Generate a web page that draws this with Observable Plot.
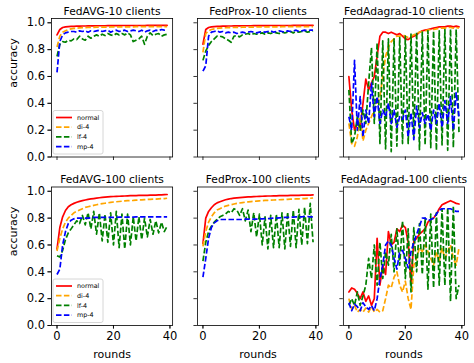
<!DOCTYPE html>
<html>
<head>
<meta charset="utf-8">
<script src="https://cdn.jsdelivr.net/npm/d3@7"></script>
<script src="https://cdn.jsdelivr.net/npm/@observablehq/plot@0.6"></script>
<style>
  html, body { margin: 0; padding: 0; background: white; }
  #chart { width: 474px; height: 363px; }
</style>
</head>
<body>
<div id="chart"></div>
<script>
// ---------- categories & labels ----------
const algs = ["FedAVG", "FedProx", "FedAdagrad"];
const clientCounts = ["10", "100"];
const seriesNames = ["normal", "di-4", "lf-4", "mp-4"];
const seriesColors = ["red", "orange", "green", "blue"];
const yTicks = [0, 0.2, 0.4, 0.6, 0.8, 1.0];
const xTicks = [0, 20, 40];
const rounds = d3.range(40);

// ---------- FedAVG, 10 clients ----------
const fedavg10_normal = [0.91,0.95,0.965,0.97,0.972,0.973,0.974,0.975,0.975,0.976, 0.976,0.977,0.977,0.977,0.978,0.978,0.978,0.978,0.979,0.979, 0.979,0.979,0.979,0.98,0.98,0.98,0.98,0.98,0.98,0.98, 0.98,0.98,0.981,0.981,0.981,0.981,0.981,0.981,0.981,0.981];
const fedavg10_di4 = [0.82,0.9,0.93,0.94,0.95,0.955,0.958,0.96,0.962,0.963, 0.964,0.965,0.966,0.966,0.967,0.967,0.968,0.968,0.968,0.969, 0.969,0.969,0.97,0.97,0.97,0.97,0.97,0.97,0.971,0.971, 0.971,0.971,0.971,0.972,0.972,0.972,0.972,0.972,0.972,0.972];
const fedavg10_lf4 = [0.75,0.84,0.86,0.855,0.87,0.865,0.88,0.875,0.9,0.88, 0.87,0.9,0.885,0.9,0.91,0.9,0.915,0.905,0.92,0.91, 0.905,0.92,0.91,0.92,0.91,0.925,0.91,0.86,0.87,0.88, 0.9,0.84,0.9,0.925,0.905,0.915,0.92,0.9,0.91,0.915];
const fedavg10_mp4 = [0.63,0.86,0.91,0.925,0.93,0.935,0.935,0.93,0.94,0.935, 0.94,0.93,0.94,0.935,0.94,0.945,0.935,0.94,0.945,0.93, 0.94,0.945,0.935,0.94,0.945,0.935,0.94,0.945,0.94,0.935, 0.945,0.93,0.94,0.945,0.935,0.945,0.94,0.95,0.945,0.95];

// ---------- FedProx, 10 clients ----------
const fedprox10_normal = [0.84,0.95,0.965,0.97,0.972,0.973,0.974,0.975,0.975,0.976, 0.976,0.977,0.977,0.977,0.978,0.978,0.978,0.978,0.979,0.979, 0.979,0.979,0.979,0.98,0.98,0.98,0.98,0.98,0.98,0.98, 0.98,0.98,0.981,0.981,0.981,0.981,0.981,0.981,0.981,0.981];
const fedprox10_di4 = [0.78,0.92,0.94,0.95,0.955,0.958,0.96,0.962,0.963,0.964, 0.965,0.965,0.966,0.966,0.967,0.967,0.968,0.968,0.968,0.969, 0.969,0.969,0.97,0.97,0.97,0.97,0.97,0.97,0.971,0.971, 0.971,0.971,0.971,0.972,0.972,0.972,0.972,0.972,0.972,0.972];
const fedprox10_lf4 = [0.72,0.79,0.83,0.86,0.88,0.9,0.9,0.895,0.88,0.87, 0.855,0.9,0.905,0.895,0.91,0.915,0.92,0.91,0.92,0.915, 0.92,0.925,0.915,0.925,0.92,0.93,0.925,0.92,0.93,0.925, 0.93,0.935,0.925,0.935,0.93,0.935,0.94,0.93,0.935,0.94];
const fedprox10_mp4 = [0.64,0.68,0.9,0.93,0.935,0.94,0.93,0.935,0.925,0.93, 0.925,0.93,0.92,0.925,0.93,0.925,0.93,0.935,0.93,0.925, 0.93,0.935,0.93,0.935,0.94,0.93,0.935,0.94,0.935,0.93, 0.94,0.935,0.94,0.945,0.935,0.94,0.945,0.94,0.945,0.945];

// ---------- FedAdagrad, 10 clients ----------
const fedadagrad10_normal = [0.6,0.35,0.2,0.25,0.22,0.4,0.58,0.5,0.55,0.6, 0.75,0.9,0.93,0.93,0.92,0.93,0.92,0.91,0.92,0.9, 0.88,0.875,0.89,0.9,0.91,0.93,0.94,0.945,0.95,0.955, 0.96,0.965,0.97,0.97,0.97,0.975,0.975,0.97,0.975,0.97];
const fedadagrad10_di4 = [0.25,0.1,0.08,0.15,0.3,0.12,0.2,0.25,0.3,0.35, 0.4,0.45,0.6,0.75,0.82,0.86,0.88,0.9,0.9,0.91, 0.9,0.89,0.9,0.91,0.92,0.93,0.935,0.94,0.945,0.95, 0.95,0.955,0.96,0.96,0.96,0.965,0.965,0.96,0.965,0.96];
const fedadagrad10_lf4 = [0.5,0.1,0.15,0.3,0.2,0.35,0.25,0.55,0.815,0.25, 0.85,0.1,0.865,0.06,0.88,0.04,0.88,0.08,0.89,0.1, 0.9,0.1,0.915,0.15,0.93,0.055,0.93,0.09,0.94,0.07, 0.94,0.05,0.94,0.09,0.95,0.05,0.953,0.07,0.95,0.18];
const fedadagrad10_mp4 = [0.3,0.2,0.72,0.2,0.45,0.15,0.35,0.25,0.55,0.3, 0.45,0.25,0.35,0.3,0.4,0.25,0.35,0.22,0.3,0.28, 0.35,0.15,0.33,0.13,0.38,0.22,0.33,0.25,0.32,0.2, 0.35,0.25,0.4,0.22,0.42,0.25,0.45,0.2,0.48,0.3];

// ---------- FedAVG, 100 clients ----------
const fedavg100_normal = [0.57,0.73,0.81,0.857,0.885,0.9,0.91,0.918,0.925,0.93, 0.935,0.94,0.943,0.946,0.949,0.952,0.954,0.956,0.958,0.96, 0.961,0.962,0.963,0.964,0.965,0.966,0.967,0.967,0.968,0.969, 0.969,0.97,0.97,0.971,0.972,0.972,0.973,0.974,0.975,0.976];
const fedavg100_di4 = [0.555,0.65,0.72,0.77,0.8,0.82,0.84,0.85,0.86,0.87, 0.88,0.885,0.89,0.895,0.9,0.905,0.908,0.911,0.914,0.917, 0.92,0.922,0.924,0.926,0.928,0.93,0.931,0.932,0.934,0.935, 0.936,0.938,0.939,0.94,0.941,0.942,0.944,0.945,0.946,0.948];
const fedavg100_lf4 = [0.52,0.51,0.56,0.64,0.69,0.72,0.75,0.78,0.76,0.82, 0.75,0.84,0.72,0.85,0.68,0.84,0.63,0.83,0.62,0.84, 0.6,0.85,0.58,0.83,0.57,0.83,0.6,0.81,0.63,0.81, 0.64,0.8,0.66,0.79,0.68,0.78,0.69,0.77,0.7,0.74];
const fedavg100_mp4 = [0.38,0.42,0.6,0.7,0.76,0.785,0.795,0.8,0.8,0.8, 0.8,0.8,0.803,0.805,0.805,0.806,0.806,0.805,0.805,0.805, 0.806,0.806,0.807,0.807,0.807,0.808,0.808,0.808,0.809,0.809, 0.809,0.81,0.81,0.81,0.81,0.81,0.81,0.81,0.81,0.81];

// ---------- FedProx, 100 clients ----------
const fedprox100_normal = [0.61,0.8,0.85,0.877,0.9,0.914,0.922,0.93,0.937,0.942, 0.946,0.949,0.951,0.953,0.955,0.957,0.958,0.959,0.96,0.961, 0.962,0.963,0.964,0.965,0.965,0.966,0.966,0.967,0.967,0.968, 0.968,0.969,0.969,0.97,0.97,0.971,0.971,0.972,0.972,0.973];
const fedprox100_di4 = [0.59,0.7,0.77,0.81,0.84,0.86,0.87,0.88,0.89,0.895, 0.9,0.905,0.91,0.913,0.916,0.919,0.921,0.923,0.925,0.927, 0.929,0.93,0.932,0.933,0.934,0.935,0.936,0.937,0.938,0.939, 0.94,0.941,0.942,0.943,0.944,0.945,0.946,0.947,0.948,0.95];
const fedprox100_lf4 = [0.48,0.62,0.7,0.74,0.77,0.79,0.81,0.82,0.83,0.85, 0.84,0.87,0.86,0.82,0.87,0.78,0.86,0.7,0.84,0.66, 0.83,0.6,0.81,0.57,0.82,0.58,0.83,0.58,0.84,0.57, 0.845,0.59,0.86,0.58,0.865,0.6,0.88,0.61,0.91,0.62];
const fedprox100_mp4 = [0.36,0.5,0.65,0.73,0.765,0.78,0.79,0.79,0.79,0.79, 0.79,0.79,0.79,0.79,0.79,0.792,0.792,0.792,0.793,0.793, 0.794,0.795,0.796,0.797,0.798,0.8,0.8,0.802,0.803,0.805, 0.806,0.807,0.808,0.81,0.81,0.81,0.812,0.812,0.81,0.81];

// ---------- FedAdagrad, 100 clients ----------
const fedadagrad100_normal = [0.25,0.28,0.27,0.24,0.2,0.25,0.18,0.22,0.15,0.2, 0.65,0.3,0.45,0.38,0.7,0.6,0.62,0.72,0.7,0.75, 0.73,0.62,0.32,0.63,0.65,0.68,0.7,0.72,0.77,0.79, 0.8,0.83,0.87,0.9,0.91,0.92,0.93,0.92,0.91,0.905];
const fedadagrad100_di4 = [0.2,0.12,0.15,0.1,0.12,0.1,0.13,0.1,0.14,0.1, 0.12,0.1,0.11,0.2,0.3,0.28,0.36,0.4,0.3,0.25, 0.33,0.2,0.12,0.45,0.5,0.58,0.55,0.6,0.55,0.5, 0.45,0.55,0.48,0.58,0.5,0.55,0.6,0.5,0.45,0.58];
const fedadagrad100_lf4 = [0.15,0.2,0.15,0.25,0.15,0.22,0.3,0.5,0.35,0.6, 0.3,0.62,0.35,0.55,0.45,0.68,0.4,0.72,0.45,0.78, 0.35,0.72,0.25,0.73,0.4,0.76,0.38,0.8,0.27,0.83, 0.28,0.84,0.3,0.87,0.3,0.88,0.18,0.89,0.2,0.3];
const fedadagrad100_mp4 = [0.17,0.11,0.16,0.14,0.11,0.17,0.14,0.12,0.15,0.11, 0.2,0.35,0.45,0.6,0.63,0.6,0.5,0.42,0.55,0.56, 0.5,0.43,0.55,0.62,0.68,0.74,0.8,0.8,0.78,0.79, 0.8,0.83,0.86,0.87,0.87,0.87,0.87,0.86,0.85,0.85];

// ---------- build table ----------
const panelArrays = {
  "FedAVG|10": [fedavg10_normal, fedavg10_di4, fedavg10_lf4, fedavg10_mp4],
  "FedProx|10": [fedprox10_normal, fedprox10_di4, fedprox10_lf4, fedprox10_mp4],
  "FedAdagrad|10": [fedadagrad10_normal, fedadagrad10_di4, fedadagrad10_lf4, fedadagrad10_mp4],
  "FedAVG|100": [fedavg100_normal, fedavg100_di4, fedavg100_lf4, fedavg100_mp4],
  "FedProx|100": [fedprox100_normal, fedprox100_di4, fedprox100_lf4, fedprox100_mp4],
  "FedAdagrad|100": [fedadagrad100_normal, fedadagrad100_di4, fedadagrad100_lf4, fedadagrad100_mp4]
};
const rows = [];
const panels = [];
for (const clients of clientCounts) {
  for (const alg of algs) {
    panels.push({alg, clients, title: `${alg}-${clients} clients`});
    panelArrays[`${alg}|${clients}`].forEach((arr, s) => {
      arr.forEach((v, i) => rows.push({alg, clients, series: seriesNames[s], round: rounds[i], acc: v}));
    });
  }
}
const bottomPanels = panels.filter(p => p.clients === clientCounts[clientCounts.length - 1]);
const leftPanels = panels.filter(p => p.alg === algs[0]);

const font = "DejaVu Sans";
const dash = "5.5,2.4";

const lineMarks = seriesNames.map((name, s) =>
  Plot.line(rows.filter(d => d.series === name), {
    fx: "alg", fy: "clients", x: "round", y: "acc",
    stroke: seriesColors[s], strokeWidth: 1.7,
    strokeDasharray: s === 0 ? null : dash,
    strokeLinecap: s === 0 ? "round" : "butt",
    strokeLinejoin: "round"
  })
);

const plot = Plot.plot({
  width: 474,
  height: 363,
  marginLeft: 51,
  marginRight: 10,
  marginTop: 18,
  marginBottom: 38,
  style: {fontFamily: font, fontSize: "11.5px", color: "black", background: "white", overflow: "visible"},
  fx: {domain: algs, paddingInner: 0.17, paddingOuter: 0, round: false, axis: null},
  fy: {domain: clientCounts, paddingInner: 0.178, paddingOuter: 0, round: false, axis: null},
  x: {domain: [-1.95, 40.95]},
  y: {domain: [0, 1.032]},
  marks: [
    ...lineMarks,
    Plot.frame({stroke: "black", strokeWidth: 0.8}),
    Plot.axisY({ticks: yTicks, tickSize: 3.5, tickFormat: () => "", facetAnchor: null, label: null, strokeWidth: 0.8}),
    Plot.axisY({ticks: yTicks, tickSize: 3.5, tickPadding: 3, tickFormat: ".1f", facetAnchor: "left", label: null, strokeWidth: 0.8, fontSize: 11.5}),
    Plot.axisX({ticks: xTicks, tickSize: 3.5, tickFormat: () => "", facetAnchor: null, label: null, strokeWidth: 0.8}),
    Plot.axisX({ticks: xTicks, tickSize: 3.5, tickPadding: 3, tickFormat: "d", facetAnchor: "bottom", label: null, strokeWidth: 0.8, fontSize: 11.5}),
    Plot.text(panels, {fx: "alg", fy: "clients", text: "title", frameAnchor: "top", lineAnchor: "bottom", dy: -4, fontSize: 10.7, fill: "black"}),
    Plot.text(bottomPanels, {fx: "alg", fy: "clients", text: () => "rounds", frameAnchor: "bottom", lineAnchor: "middle", dy: 28.5, fontSize: 11, fill: "black"}),
    Plot.text(leftPanels, {fx: "alg", fy: "clients", text: () => "accuracy", frameAnchor: "left", rotate: -90, dx: -38, fontSize: 11, fill: "black"})
  ]
});

document.getElementById("chart").appendChild(plot);

// ---------- legends (left column, inside the lower-left corner) ----------
(function addLegends() {
  const svg = d3.select(plot.tagName.toLowerCase() === "svg" ? plot : plot.querySelector("svg"));
  let fxS = null, fyS = null;
  try { fxS = plot.scale("fx"); fyS = plot.scale("fy"); } catch (e) {}
  const innerH = 363 - 18 - 38;
  const stepY = innerH / (2 - 0.178);
  const left0 = fxS && fxS.apply ? fxS.apply(algs[0]) : 51;
  clientCounts.forEach((c, r) => {
    const top = fyS && fyS.apply ? fyS.apply(c) : 18 + r * stepY;
    const bw = fyS && fyS.bandwidth ? fyS.bandwidth : stepY * (1 - 0.178);
    const bottom = top + bw;
    const g = svg.append("g").attr("transform", `translate(${left0},${bottom})`)
      .attr("font-family", font).attr("font-size", 6.4)
      .attr("text-anchor", "start").style("text-anchor", "start").style("font-size", "6.4px");
    g.append("rect").attr("x", 2).attr("y", -46).attr("width", 50).attr("height", 43.5)
      .attr("rx", 2).attr("fill", "white").attr("fill-opacity", 0.8)
      .attr("stroke", "#cccccc").attr("stroke-width", 0.8);
    seriesNames.forEach((name, s) => {
      const y = -39 + s * 9.7;
      g.append("line").attr("x1", 5).attr("x2", 21).attr("y1", y).attr("y2", y)
        .attr("stroke", seriesColors[s]).attr("stroke-width", 1.7)
        .attr("stroke-dasharray", s === 0 ? null : dash);
      g.append("text").attr("x", 26).attr("y", y).attr("dy", "0.35em")
        .attr("text-anchor", "start").style("text-anchor", "start")
        .attr("fill", "black").text(name);
    });
  });
})();
</script>
</body>
</html>
